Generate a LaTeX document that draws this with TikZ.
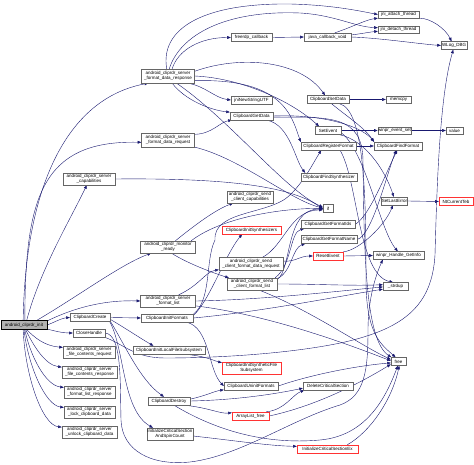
\documentclass[tikz,border=0pt]{standalone}
\usepackage{fontspec}
\setmainfont{Liberation Sans}
\usetikzlibrary{arrows.meta}
\definecolor{edgec}{HTML}{191970}
\pgfdeclarelayer{bg}
\pgfsetlayers{bg,main}
\begin{document}
\begin{tikzpicture}[x=1pt,y=-1pt,
  nd/.style={draw=black!60, fill=white, line width=0.4pt, inner sep=0.3pt, align=center, font=\fontsize{4.5}{5.2}\selectfont},
  rd/.style={nd, draw=red!80},
  rootnd/.style={nd, draw=black, fill=black!30},
  edg/.style={draw=edgec, line width=0.4pt, -{Triangle[length=3.6pt,width=2.8pt]}}]
\useasboundingbox (0,0) rectangle (474,465);
% ---------- nodes ----------
\node[rootnd, minimum width=46pt, minimum height=9pt] (init) at (24,325) {android\_cliprdr\_init};
\node[nd, minimum width=53pt, minimum height=14pt] (fdresp) at (168,76) {android\_cliprdr\_server\\\_format\_data\_response};
\node[nd, minimum width=53pt, minimum height=14pt] (fdreq) at (168,140) {android\_cliprdr\_server\\\_format\_data\_request};
\node[nd, minimum width=52pt, minimum height=12pt] (caps) at (89,179) {android\_cliprdr\_server\\\_capabilities};
\node[nd, minimum width=55pt, minimum height=12pt] (monitor) at (168,247) {android\_cliprdr\_monitor\\\_ready};
\node[nd, minimum width=55pt, minimum height=12pt] (sfl) at (168,301) {android\_cliprdr\_server\\\_format\_list};
\node[nd, minimum width=52pt, minimum height=8pt] (initformats) at (167,318) {ClipboardInitFormats};
\node[nd, minimum width=40pt, minimum height=8pt] (ccreate) at (90,317.5) {ClipboardCreate};
\node[nd, minimum width=32pt, minimum height=8pt] (closeh) at (89,333) {CloseHandle};
\node[nd, minimum width=52pt, minimum height=12pt] (fcreq) at (89,352) {android\_cliprdr\_server\\\_file\_contents\_request};
\node[nd, minimum width=55pt, minimum height=12pt] (fcresp) at (89.5,372) {android\_cliprdr\_server\\\_file\_contents\_response};
\node[nd, minimum width=51pt, minimum height=12pt] (flresp) at (89.5,392) {android\_cliprdr\_server\\\_format\_list\_response};
\node[nd, minimum width=51pt, minimum height=12pt] (lock) at (89.5,412) {android\_cliprdr\_server\\\_lock\_clipboard\_data};
\node[nd, minimum width=55pt, minimum height=12pt] (unlock) at (89.5,432) {android\_cliprdr\_server\\\_unlock\_clipboard\_data};
\node[nd, minimum width=72pt, minimum height=8pt] (localfs) at (169,350) {ClipboardInitLocalFileSubsystem};
\node[rd, minimum width=59pt, minimum height=12pt] (synthfile) at (251.5,368) {ClipboardInitSyntheticFile\\Subsystem};
\node[nd, minimum width=54pt, minimum height=8pt] (uninit) at (251,386) {ClipboardUninitFormats};
\node[nd, minimum width=42pt, minimum height=8pt] (destroy) at (169,401) {ClipboardDestroy};
\node[rd, minimum width=37pt, minimum height=8pt] (alfree) at (250.5,416) {ArrayList\_free};
\node[nd, minimum width=46pt, minimum height=12pt] (icsasc) at (170,434) {InitializeCriticalSection\\AndSpinCount};
\node[nd, minimum width=41pt, minimum height=8pt] (fcb) at (251.5,37.5) {freerdp\_callback};
\node[nd, minimum width=41pt, minimum height=8pt] (jninew) at (251.5,100) {jniNewStringUTF};
\node[nd, minimum width=43pt, minimum height=8pt] (cgetdata) at (251.5,116) {ClipboardGetData};
\node[nd, minimum width=46pt, minimum height=12pt] (sccaps) at (250,197) {android\_cliprdr\_send\\\_client\_capabilities};
\node[rd, minimum width=59pt, minimum height=8pt] (initsynth) at (251.5,230) {ClipboardInitSynthesizers};
\node[nd, minimum width=64pt, minimum height=13pt] (scfdreq) at (251,264) {android\_cliprdr\_send\\\_client\_format\_data\_request};
\node[nd, minimum width=50pt, minimum height=12pt] (scfl) at (252,284) {android\_cliprdr\_send\\\_client\_format\_list};
\node[nd, minimum width=47pt, minimum height=8pt] (jcv) at (327.5,37) {java\_callback\_void};
\node[nd, minimum width=42pt, minimum height=8pt] (csetdata) at (328,99.5) {ClipboardSetData};
\node[nd, minimum width=26pt, minimum height=8pt] (setevent) at (328,130.5) {SetEvent};
\node[nd, minimum width=55pt, minimum height=8pt] (cregfmt) at (328.5,146) {ClipboardRegisterFormat};
\node[nd, minimum width=56pt, minimum height=8pt] (cfindsynth) at (329,177) {ClipboardFindSynthesizer};
\node[nd, minimum width=10pt, minimum height=8pt] (ifn) at (328,208.5) {if};
\node[nd, minimum width=54pt, minimum height=8pt] (getids) at (328,224.5) {ClipboardGetFormatIds};
\node[nd, minimum width=56pt, minimum height=8pt] (getname) at (329,239.5) {ClipboardGetFormatName};
\node[rd, minimum width=30pt, minimum height=8pt] (resetev) at (328,256) {ResetEvent};
\node[nd, minimum width=50pt, minimum height=8pt] (delcs) at (328,386) {DeleteCriticalSection};
\node[rd, minimum width=61pt, minimum height=8pt] (icsex) at (327.5,449) {InitializeCriticalSectionEx};
\node[nd, minimum width=41pt, minimum height=7pt] (jat) at (398.5,14.5) {jni\_attach\_thread};
\node[nd, minimum width=41pt, minimum height=7pt] (jdt) at (398.5,29.5) {jni\_detach\_thread};
\node[nd, minimum width=25pt, minimum height=7pt] (memcpy) at (398.5,99.5) {memcpy};
\node[nd, minimum width=33pt, minimum height=7pt] (evset) at (394.5,130.5) {winpr\_event\_set};
\node[nd, minimum width=48pt, minimum height=8pt] (findfmt) at (398,146) {ClipboardFindFormat};
\node[nd, minimum width=23pt, minimum height=8pt] (setlasterr) at (394.5,201) {SetLastError};
\node[nd, minimum width=51pt, minimum height=8pt] (handleinfo) at (398.5,255.5) {winpr\_Handle\_GetInfo};
\node[nd, minimum width=25pt, minimum height=8pt] (strdup) at (395.5,286.5) {\_strdup};
\node[nd, minimum width=15pt, minimum height=8pt] (free) at (398.5,361.5) {free};
\node[nd, minimum width=26pt, minimum height=8pt] (wlog) at (454,45.5) {WLog\_DBG};
\node[nd, minimum width=17pt, minimum height=7pt] (value) at (454.5,130.5) {value};
\node[rd, minimum width=34pt, minimum height=8pt] (ntteb) at (456,201.5) {NtCurrentTeb};
\begin{pgfonlayer}{bg}
% ---------- edges from init ----------
\draw[edg] (init.100) .. controls (25,200) and (60,100) .. (fdresp.200);
\draw[edg] (init.80) .. controls (25,200) and (40,140) .. (fdreq.185);
\draw[edg] (init.60) .. controls (40,270) and (70,220) .. (caps.250);
\draw[edg] (init.20) .. controls (80,295) and (120,265) .. (monitor.200);
\draw[edg] (init.10) .. controls (80,305) and (110,300) .. (sfl.west);
\draw[edg] (init.east) .. controls (55,322) and (62,318) .. (ccreate.west);
\draw[edg] (init.-10) .. controls (55,331) and (62,333) .. (closeh.west);
\draw[edg] (init.-60) .. controls (35,338) and (45,346) .. (fcreq.170);
\draw[edg] (init.-70) .. controls (33,345) and (45,365) .. (fcresp.170);
\draw[edg] (init.-80) .. controls (30,355) and (45,385) .. (flresp.170);
\draw[edg] (init.-90) .. controls (28,365) and (45,405) .. (lock.170);
\draw[edg] (init.-100) .. controls (25,375) and (42,425) .. (unlock.170);
% ---------- fdresp ----------
\draw[edg] (fdresp.60) .. controls (178,50) and (200,37.5) .. (fcb.west);
\draw[edg] (fdresp.100) .. controls (160,30) and (200,3) .. (290,4) .. controls (330,5) and (355,10) .. (jat.west);
\draw[edg] (fdresp.80) .. controls (180,35) and (225,10) .. (300,13) .. controls (335,15) and (355,27) .. (jdt.175);
\draw[edg] (fdresp.-20) .. controls (205,86) and (215,98) .. (jninew.west);
\draw[edg] (fdresp.-60) .. controls (185,100) and (210,110) .. (cgetdata.170);
\draw[edg] (fdresp.10) .. controls (240,55) and (300,60) .. (csetdata.125);
\draw[edg] (fdresp.east) .. controls (240,78) and (290,100) .. (setevent.155);
\draw[edg] (fdresp.-10) .. controls (285,78) and (292,118) .. (cregfmt.172);
\draw[edg] (fdresp.-40) .. controls (230,120) and (285,190) .. (ifn.165);
% ---------- callbacks ----------
\draw[edg] (fcb.east) -- (jcv.west);
\draw[edg] (jcv.30) .. controls (350,28) and (365,20) .. (jat.190);
\draw[edg] (jcv.5) .. controls (360,34) and (370,32) .. (jdt.185);
\draw[edg] (jcv.east) .. controls (380,38) and (420,44) .. (wlog.west);
\draw[edg] (jat.-10) .. controls (430,18) and (445,28) .. (wlog.120);
% ---------- clipboard data ----------
\draw[edg] (cgetdata.east) .. controls (320,114) and (360,125) .. (findfmt.170);
\draw[edg] (cgetdata.-15) .. controls (290,125) and (295,160) .. (cfindsynth.170);
\draw[edg] (cgetdata.-3) .. controls (330,117) and (362,115) .. (363,160) .. controls (364,260) and (366,340) .. (free.150);
\draw[edg] (csetdata.east) -- (memcpy.west);
\draw[edg] (csetdata.-50) .. controls (345,115) and (365,128) .. (findfmt.north west);
\draw[edg] (csetdata.-20) .. controls (365,110) and (366,200) .. (366,280) .. controls (366,335) and (382,345) .. (free.125);
\draw[edg] (setevent.east) -- (evset.west);
\draw[edg] (evset.east) -- (value.west);
\draw[edg] (setevent.-20) .. controls (365,140) and (385,170) .. (setlasterr.100);
\draw[edg] (setevent.-10) .. controls (365,150) and (380,230) .. (handleinfo.100);
\draw[edg] (cregfmt.east) -- (findfmt.west);
\draw[edg] (cregfmt.-20) .. controls (358,180) and (358,275) .. (strdup.120);
\draw[edg] (getids.east) .. controls (370,215) and (385,175) .. (findfmt.-100);
\draw[edg] (getname.east) .. controls (372,235) and (385,180) .. (findfmt.-115);
\draw[edg] (resetev.east) -- (handleinfo.west);
\draw[edg] (resetev.15) .. controls (360,250) and (385,225) .. (setlasterr.-110);
\draw[edg] (setlasterr.east) -- (ntteb.west);
% ---------- requests / lists ----------
\draw[edg] (fdreq.12) .. controls (212,134) and (220,122) .. (cgetdata.192);
\draw[edg] (fdreq.-15) .. controls (240,158) and (290,200) .. (ifn.175);
\draw[edg] (caps.east) .. controls (220,178) and (290,185) .. (ifn.185);
\draw[edg] (monitor.40) .. controls (195,225) and (215,210) .. (sccaps.200);
\draw[edg] (monitor.-60) .. controls (185,262) and (210,272) .. (scfl.165);
\draw[edg] (monitor.15) .. controls (225,215) and (290,208) .. (ifn.180);
\draw[edg] (scfdreq.5) .. controls (295,262) and (300,256) .. (resetev.west);
\draw[edg] (scfdreq.30) .. controls (285,245) and (290,210) .. (ifn.195);
\draw[edg] (scfl.10) .. controls (292,270) and (285,208) .. (ifn.188);
\draw[edg] (scfl.15) .. controls (292,265) and (290,232) .. (getids.190);
\draw[edg] (scfl.12) .. controls (292,272) and (292,248) .. (getname.190);
\draw[edg] (scfl.east) .. controls (320,284) and (350,286) .. (strdup.172);
\draw[edg] (scfl.-40) .. controls (310,310) and (360,345) .. (free.165);
\draw[edg] (sfl.30) .. controls (200,285) and (205,272) .. (scfdreq.190);
\draw[edg] (sfl.east) .. controls (260,300) and (340,291) .. (strdup.182);
\draw[edg] (sfl.-10) .. controls (270,315) and (350,345) .. (free.175);
% ---------- clipboard create ----------
\draw[edg] (initformats.5) .. controls (210,300) and (225,255) .. (initsynth.-156);
\draw[edg] (initformats.8) .. controls (212,300) and (205,260) .. (215,240) .. controls (213,210) and (270,215) .. (290,195) .. controls (305,180) and (312,165) .. (cregfmt.-150);
\draw[edg] (initformats.-12) .. controls (210,328) and (208,370) .. (uninit.west);
\draw[edg] (initformats.east) .. controls (260,312) and (340,296) .. (strdup.192);
\draw[edg] (ccreate.east) -- (initformats.west);
\draw[edg] (ccreate.-5) .. controls (125,328) and (140,338) .. (localfs.165);
\draw[edg] (ccreate.-10) .. controls (125,345) and (140,380) .. (destroy.140);
\draw[edg] (ccreate.-12) .. controls (125,350) and (122,410) .. (icsasc.160);
\draw[edg] (localfs.-15) .. controls (205,356) and (212,360) .. (synthfile.170);
\draw[edg] (destroy.5) .. controls (205,396) and (215,391) .. (uninit.188);
\draw[edg] (destroy.east) .. controls (240,400) and (280,393) .. (delcs.185);
\draw[edg] (destroy.-15) .. controls (210,408) and (220,414) .. (alfree.170);
\draw[edg] (destroy.-40) .. controls (215,430) and (265,445) .. (320,440) .. controls (365,436) and (385,400) .. (free.-100);
\draw[edg] (uninit.east) .. controls (310,375) and (355,366) .. (free.190);
\draw[edg] (alfree.15) .. controls (285,410) and (292,395) .. (delcs.190);
\draw[edg] (alfree.east) .. controls (320,405) and (365,380) .. (free.200);
\draw[edg] (icsasc.-5) .. controls (230,440) and (270,446) .. (icsex.175);
\draw[edg] (icsex.12) .. controls (370,432) and (392,400) .. (free.-80);
% ---------- CloseHandle ----------
\draw[edg] (closeh.east) .. controls (122,335) and (120,380) .. (121,420) .. controls (122,450) and (150,466) .. (190,462) .. controls (240,456) and (290,420) .. (340,405) .. controls (365,396) and (368,370) .. (368,330) .. controls (368,295) and (378,270) .. (handleinfo.-165);
\draw[edg] (closeh.-15) .. controls (125,345) and (135,358) .. (165,358) .. controls (230,358) and (300,352) .. (345,342) .. controls (405,328) and (432,305) .. (435,255) .. controls (437,180) and (440,95) .. (wlog.-100);
\end{pgfonlayer}
\end{tikzpicture}
\end{document}
